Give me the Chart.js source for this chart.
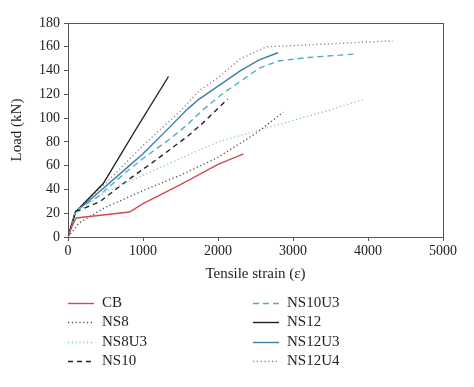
<!DOCTYPE html>
<html>
<head>
<meta charset="utf-8">
<script src="https://cdn.jsdelivr.net/npm/chart.js@4/dist/chart.umd.min.js"></script>
<style>
  html, body { margin: 0; padding: 0; background: #fff; }
  #wrap { width: 474px; height: 387px; }
</style>
</head>
<body>
<div id="wrap"><canvas id="grafica" width="474" height="387"></canvas></div>
<script>
// [strain, load] pairs
const cb     = [[0,0],[60,10],[110,16],[820,21],[1000,28],[1500,44],[2000,61],[2340,70]];
const ns8    = [[0,0],[150,12],[500,25],[1000,39],[1500,52],[2000,67],[2500,87],[2870,105]];
const ns8u3  = [[0,0],[100,20],[500,38],[1000,52],[1500,66],[2000,80],[2500,89],[3000,98],[3500,107],[3950,116]];
const ns10   = [[0,0],[100,21],[430,30],[800,48],[1200,66],[1600,85],[1800,96],[2130,116]];
const ns10u3 = [[0,0],[100,22],[400,34],[800,56],[1000,66],[1350,82],[1600,95],[1800,107],[2050,120],[2300,131],[2550,142],[2800,148],[3200,151],[3850,154]];
const ns12   = [[0,0],[100,21],[470,45],[900,90],[1340,135]];
const ns12u3 = [[0,0],[100,21],[400,37],[800,59],[1000,70],[1350,92],[1600,108],[1750,116],[2300,140],[2550,149],[2800,155]];
const ns12u4 = [[0,0],[100,22],[500,45],[1000,77],[1500,106],[1750,123],[2000,134],[2300,150],[2650,160],[3000,161],[4330,165]];

const xTicks = [0, 1000, 2000, 3000, 4000, 5000];
const yTicks = [0, 20, 40, 60, 80, 100, 120, 140, 160, 180];

const dotted = [1.2, 2.6];
const series = [
    { label: 'CB',     pts: cb,     color: '#d9474f', dash: [] },
    { label: 'NS8',    pts: ns8,    color: '#555555', dash: dotted },
    { label: 'NS8U3',  pts: ns8u3,  color: '#88c8c4', dash: dotted },
    { label: 'NS10',   pts: ns10,   color: '#222222', dash: [5, 4] },
    { label: 'NS10U3', pts: ns10u3, color: '#4aaec6', dash: [6, 4] },
    { label: 'NS12',   pts: ns12,   color: '#222222', dash: [] },
    { label: 'NS12U3', pts: ns12u3, color: '#3b7fa6', dash: [] },
    { label: 'NS12U4', pts: ns12u4, color: '#8a8a8a', dash: dotted }
];

const datasets = series.map(s => ({
    label: s.label,
    data: s.pts.map(p => ({ x: p[0], y: p[1] })),
    borderColor: s.color,
    backgroundColor: s.color,
    borderDash: s.dash,
    borderWidth: 1.4,
    pointRadius: 0,
    tension: 0,
    fill: false
}));

const serif = 'Liberation Serif, Times New Roman, serif';

// frame on top/right plus the two-column legend under the axis
const marcoYLeyenda = {
    id: 'marcoYLeyenda',
    afterDraw(chart) {
        const ctx = chart.ctx;
        const a = chart.chartArea;
        ctx.save();
        ctx.strokeStyle = '#555';
        ctx.lineWidth = 1;
        ctx.setLineDash([]);
        ctx.strokeRect(a.left + 0.5, a.top + 0.5, a.right - a.left, a.bottom - a.top);

        ctx.font = '15px ' + serif;
        ctx.textBaseline = 'middle';
        ctx.fillStyle = '#222';
        const rows = [303, 322, 342, 361];
        const cols = [68, 253];
        chart.data.datasets.forEach((ds, i) => {
            const x = cols[Math.floor(i / 4)];
            const y = rows[i % 4];
            ctx.strokeStyle = ds.borderColor;
            ctx.lineWidth = 1.4;
            ctx.setLineDash(ds.borderDash || []);
            ctx.beginPath();
            ctx.moveTo(x, y + 0.5);
            ctx.lineTo(x + 26, y + 0.5);
            ctx.stroke();
            ctx.fillText(ds.label, x + 34, y);
        });
        ctx.restore();
    }
};

new Chart(document.getElementById('grafica').getContext('2d'), {
    type: 'line',
    data: { datasets: datasets },
    plugins: [marcoYLeyenda],
    options: {
        responsive: false,
        animation: false,
        layout: { padding: { left: 0, right: 31, top: 23, bottom: 100 } },
        plugins: {
            legend: { display: false },
            tooltip: { enabled: false }
        },
        scales: {
            x: {
                type: 'linear',
                min: xTicks[0],
                max: xTicks[xTicks.length - 1],
                afterBuildTicks: s => { s.ticks = xTicks.map(v => ({ value: v })); },
                afterFit: s => { s.height = 50; },
                grid: { drawOnChartArea: false, tickLength: 4, color: '#555' },
                border: { color: '#555' },
                ticks: {
                    color: '#222', padding: 2, maxRotation: 0,
                    font: { family: serif, size: 14 },
                    callback: v => String(v)
                },
                title: {
                    display: true,
                    text: 'Tensile strain (ε)',
                    color: '#222',
                    padding: { top: 2, bottom: 4 },
                    font: { family: serif, size: 15 }
                }
            },
            y: {
                min: yTicks[0],
                max: yTicks[yTicks.length - 1],
                afterBuildTicks: s => { s.ticks = yTicks.map(v => ({ value: v })); },
                afterFit: s => { s.width = 68; },
                grid: { drawOnChartArea: false, tickLength: 4, color: '#555' },
                border: { color: '#555' },
                ticks: { color: '#222', padding: 4, font: { family: serif, size: 14 } },
                title: {
                    display: true,
                    text: 'Load (kN)',
                    color: '#222',
                    padding: { top: 8, bottom: 4 },
                    font: { family: serif, size: 15 }
                }
            }
        }
    }
});
</script>
</body>
</html>
